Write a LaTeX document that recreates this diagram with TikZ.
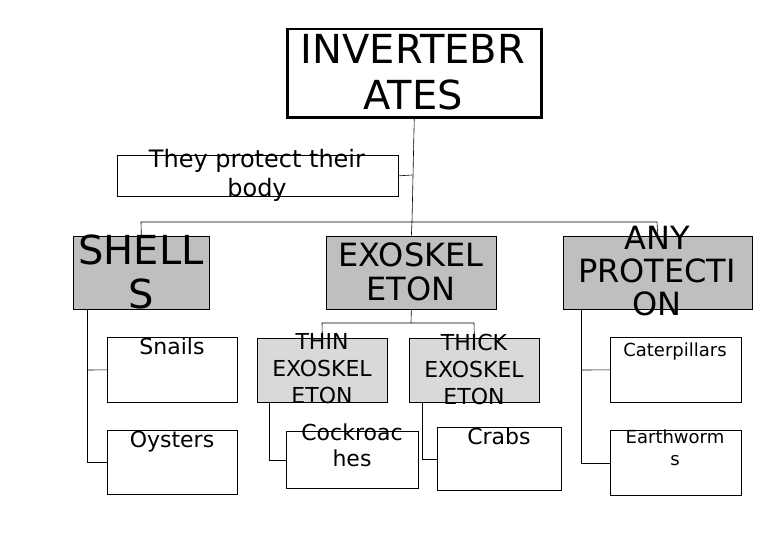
\documentclass[tikz,border=0pt]{standalone}
\usepackage{fontspec}
\setmainfont{DejaVu Sans}
\begin{document}
\begin{tikzpicture}[x=1pt,y=-1pt,
  box/.style={draw,anchor=north west,inner sep=0,line width=0.7pt},
  lbl/.style={align=center,inner sep=0},
  ln/.style={line width=0.6pt}]
\useasboundingbox (0,0) rectangle (768,543);
\def\bx#1#2#3#4#5#6{\node[box,#6,minimum width=#4-#2,minimum height=#5-#3] (#1) at (#2,#3) {};}
\bx{inv}{286}{28}{540}{116}{line width=2.5pt}
\bx{prot}{117}{155}{398}{196}{}
\bx{shells}{73}{236}{209}{309}{fill=black!25}
\bx{exo}{326}{236}{496}{309}{fill=black!25}
\bx{any}{563}{236}{752}{309}{fill=black!25}
\bx{snails}{107}{337}{237}{402}{}
\bx{oysters}{107}{430}{237}{494}{}
\bx{thin}{257}{338}{387}{402}{fill=black!15}
\bx{thick}{409}{338}{539}{402}{fill=black!15}
\bx{cock}{286}{431}{418}{488}{}
\bx{crabs}{437}{427}{561}{490}{}
\bx{cat}{610}{337}{741}{402}{}
\bx{earth}{610}{430}{741}{495}{}
\node[lbl,font=\fontsize{40}{46}\selectfont] at (413,72) {INVERTEBR\\ATES};
\node[lbl,font=\fontsize{24}{29}\selectfont] at (257,175) {They protect their\\body};
\node[lbl,font=\fontsize{40}{44}\selectfont] at (141,272) {SHELL\\S};
\node[lbl,font=\fontsize{32}{34}\selectfont] at (411,272) {EXOSKEL\\ETON};
\node[lbl,font=\fontsize{32}{33}\selectfont] at (657,271) {ANY\\PROTECTI\\ON};
\node[lbl,font=\fontsize{22}{26}\selectfont,anchor=north] at (172,338) {Snails};
\node[lbl,font=\fontsize{22}{26}\selectfont,anchor=north] at (172,431) {Oysters};
\node[lbl,font=\fontsize{22}{27}\selectfont] at (322,369) {THIN\\EXOSKEL\\ETON};
\node[lbl,font=\fontsize{22}{27}\selectfont] at (474,369) {THICK\\EXOSKEL\\ETON};
\node[lbl,font=\fontsize{22}{26}\selectfont] at (352,445) {Cockroac\\hes};
\node[lbl,font=\fontsize{22}{26}\selectfont,anchor=north] at (499,428) {Crabs};
\node[lbl,font=\fontsize{18}{22}\selectfont,anchor=north] at (675,343) {Caterpillars};
\node[lbl,font=\fontsize{18}{22}\selectfont] at (675,448) {Earthworm\\s};
\draw[ln] (inv.south) -- (412,222);
\draw[ln] (prot.east) -- (412,175);
\draw[ln] (shells.north) -- (141,222) -- (657,222) -- (any.north);
\draw[ln] (412,222) -- (exo.north);
\draw[ln] (exo.south) -- (411,323);
\draw[ln] (thin.north) -- (322,323) -- (474,323) -- (thick.north);
\draw[ln] (87,309) |- (oysters.west);
\draw[ln] (87,370) -- (snails.west);
\draw[ln] (269,402) |- (cock.west);
\draw[ln] (422,402) |- (crabs.west);
\draw[ln] (581,309) |- (earth.west);
\draw[ln] (581,370) -- (cat.west);
\end{tikzpicture}
\end{document}
